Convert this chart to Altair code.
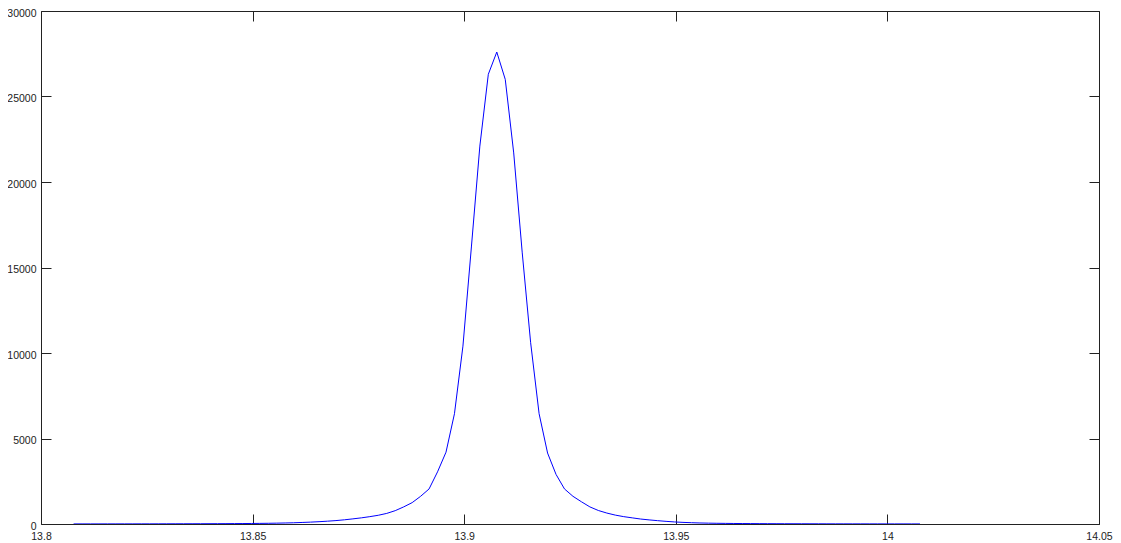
import altair as alt
import pandas as pd

x_vals = [
    13.8077, 13.8097, 13.8117, 13.8137, 13.8157, 13.8177, 13.8197, 13.8217, 13.8237, 13.8257,
    13.8277, 13.8297, 13.8317, 13.8337, 13.8357, 13.8377, 13.8397, 13.8417, 13.8437, 13.8457,
    13.8477, 13.8497, 13.8517, 13.8537, 13.8557, 13.8577, 13.8597, 13.8617, 13.8637, 13.8657,
    13.8677, 13.8697, 13.8717, 13.8737, 13.8757, 13.8777, 13.8797, 13.8817, 13.8837, 13.8857,
    13.8877, 13.8897, 13.8917, 13.8937, 13.8957, 13.8977, 13.8997, 13.9017, 13.9037, 13.9057,
    13.9077, 13.9097, 13.9117, 13.9137, 13.9157, 13.9177, 13.9197, 13.9217, 13.9237, 13.9257,
    13.9277, 13.9297, 13.9317, 13.9337, 13.9357, 13.9377, 13.9397, 13.9417, 13.9437, 13.9457,
    13.9477, 13.9497, 13.9517, 13.9537, 13.9557, 13.9577, 13.9597, 13.9617, 13.9637, 13.9657,
    13.9677, 13.9697, 13.9717, 13.9737, 13.9757, 13.9777, 13.9797, 13.9817, 13.9837, 13.9857,
    13.9877, 13.9897, 13.9917, 13.9937, 13.9957, 13.9977, 13.9997, 14.0017, 14.0037, 14.0057,
    14.0077,
]

y_vals = [
    5, 6, 6, 6, 7, 7, 8, 8, 9, 9,
    10, 11, 12, 13, 14, 15, 17, 19, 21, 24,
    27, 31, 36, 42, 50, 60, 72, 90, 110, 135,
    165, 200, 245, 300, 360, 430, 510, 620, 780, 1000,
    1250, 1620, 2050, 3050, 4200, 6450, 10400, 16200, 22100, 26300,
    27600,
    26000, 21700, 15900, 10600, 6450, 4150, 2900, 2050, 1620, 1300,
    1000, 790, 640, 520, 430, 360, 290, 240, 195, 155,
    120, 95, 75, 60, 50, 42, 36, 31, 27, 24,
    21, 19, 17, 15, 14, 13, 12, 11, 10, 9,
    9, 8, 8, 7, 7, 6, 6, 6, 5, 5,
]

x_ticks = [13.8, 13.85, 13.9, 13.95, 14.0, 14.05]
y_ticks = [0, 5000, 10000, 15000, 20000, 25000, 30000]

df = pd.DataFrame({"x": x_vals, "y": y_vals})

xs = alt.Scale(domain=[13.8, 14.05], nice=False, zero=False)
ys = alt.Scale(domain=[0, 30000], nice=False, zero=True)

common = dict(
    grid=False, domain=False, tickSize=10, offset=-10, tickColor="#222222",
    tickWidth=1, labelFont="Liberation Sans", labelFontSize=10.5,
    labelColor="#222222", title=None, labelFlush=False, labelOverlap=False,
)

base = alt.Chart(df)

line = base.mark_line(color="#0000ff", strokeWidth=1, clip=True).encode(
    x=alt.X("x:Q", scale=xs,
            axis=alt.Axis(orient="bottom", values=x_ticks, format="~g",
                          labelPadding=7, **common)),
    y=alt.Y("y:Q", scale=ys,
            axis=alt.Axis(orient="left", values=y_ticks, format="d",
                          labelPadding=5, labelOffset=2, **common)),
)

mirror = base.mark_line(opacity=0).encode(
    x=alt.X("x:Q", scale=xs,
            axis=alt.Axis(orient="top", values=x_ticks, labels=False, **common)),
    y=alt.Y("y:Q", scale=ys,
            axis=alt.Axis(orient="right", values=y_ticks, labels=False, **common)),
)

chart = (
    alt.layer(line, mirror)
    .resolve_axis(x="independent", y="independent")
    .properties(
        width=1058,
        height=513,
        padding={"left": 33, "top": 3, "right": 14, "bottom": 19},
        autosize=alt.AutoSizeParams(type="none"),
    )
    .configure_view(stroke="#222222", strokeWidth=1)
)

chart.save("out.html", embed_options={"renderer": "svg", "actions": False})
